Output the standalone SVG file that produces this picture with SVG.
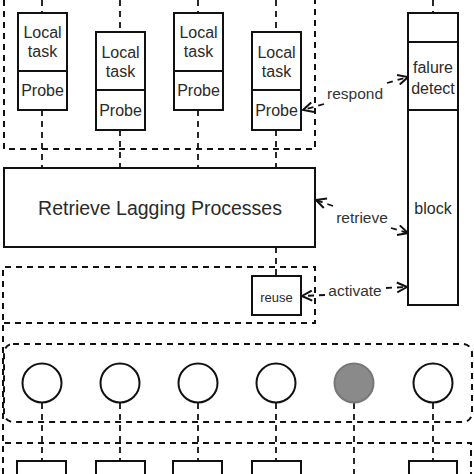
<svg xmlns="http://www.w3.org/2000/svg" width="474" height="474" viewBox="0 0 474 474">
<style>
.box{fill:#fff;stroke:#111;stroke-width:2}
.dash{fill:none;stroke:#111;stroke-width:2;stroke-dasharray:6,5}
.conn{fill:none;stroke:#111;stroke-width:1.8;stroke-dasharray:6,5}
.t{font-family:"Liberation Sans",Arial,sans-serif;font-size:16px;fill:#2a2a2a;text-anchor:middle}
.lbl{font-family:"Liberation Sans",Arial,sans-serif;font-size:15.5px;fill:#333;text-anchor:middle}
.circ{fill:#fff;stroke:#111;stroke-width:2}
</style>
<defs>
<marker id="ah" viewBox="0 0 12 12" refX="11" refY="6" markerWidth="12" markerHeight="12" markerUnits="userSpaceOnUse" orient="auto-start-reverse">
<path d="M1,1 L11,6 L1,11" fill="none" stroke="#111" stroke-width="2"/>
</marker>
</defs>
<rect width="474" height="474" fill="#fff"/>
<g id="groups">
<path class="dash" d="M4,0 V149 H315 V0"/>
<path class="dash" d="M3,474 V267 H315 V323 H3"/>
<rect class="dash" x="4" y="344" width="468" height="78" rx="9"/>
<path class="dash" d="M3,474 V443 H471 V474"/>
</g>
<g id="connectors">
<path class="conn" d="M42,0 V13 M42,110 V168"/>
<path class="conn" d="M120,0 V32 M120,130 V168"/>
<path class="conn" d="M198,0 V13 M198,110 V168"/>
<path class="conn" d="M276,0 V32 M276,130 V168"/>
<path class="conn" d="M433,0 V13"/>
<path class="conn" d="M276,247 V276"/>
<path class="conn" d="M42,403 V461 M120,403 V461 M198,403 V461 M276,403 V461 M354,403 V474 M433,403 V461"/>
<path class="conn" d="M324,104 L303,110" marker-end="url(#ah)"/>
<path class="conn" d="M387,83 L408,77" marker-end="url(#ah)"/>
<path class="conn" d="M333,206 L316,200" marker-end="url(#ah)"/>
<path class="conn" d="M391,228 L408,233" marker-end="url(#ah)"/>
<path class="conn" d="M325,295 L302,296" marker-end="url(#ah)"/>
<path class="conn" d="M386,288 L407,287" marker-end="url(#ah)"/>
<text class="lbl" x="355" y="99">respond</text>
<text class="lbl" x="362" y="223">retrieve</text>
<text class="lbl" x="355" y="296">activate</text>
</g>
<g id="node-task1">
<rect class="box" x="18" y="13" width="49" height="97"/>
<line class="box" x1="18" y1="71" x2="67" y2="71"/>
<text class="t" x="42.5" y="38">Local</text><text class="t" x="42.5" y="57">task</text>
<text class="t" x="42.5" y="96">Probe</text>
</g>
<g id="node-task2">
<rect class="box" x="96" y="32" width="49" height="98"/>
<line class="box" x1="96" y1="90" x2="145" y2="90"/>
<text class="t" x="120.5" y="58">Local</text><text class="t" x="120.5" y="77">task</text>
<text class="t" x="120.5" y="116">Probe</text>
</g>
<g id="node-task3">
<rect class="box" x="174" y="13" width="49" height="97"/>
<line class="box" x1="174" y1="71" x2="223" y2="71"/>
<text class="t" x="198.5" y="38">Local</text><text class="t" x="198.5" y="57">task</text>
<text class="t" x="198.5" y="96">Probe</text>
</g>
<g id="node-task4">
<rect class="box" x="252" y="32" width="49" height="98"/>
<line class="box" x1="252" y1="90" x2="301" y2="90"/>
<text class="t" x="276.5" y="58">Local</text><text class="t" x="276.5" y="77">task</text>
<text class="t" x="276.5" y="116">Probe</text>
</g>
<g id="node-monitor">
<rect class="box" x="408" y="13" width="50" height="292"/>
<line class="box" x1="408" y1="42" x2="458" y2="42"/>
<line class="box" x1="408" y1="110" x2="458" y2="110"/>
<text class="t" x="433" y="73">falure</text><text class="t" x="433" y="94">detect</text>
<text class="t" x="433" y="214">block</text>
</g>
<g id="node-retrieve">
<rect class="box" x="4" y="168" width="311" height="79"/>
<text class="t" x="160" y="215" style="font-size:19.5px">Retrieve Lagging Processes</text>
</g>
<g id="node-reuse">
<rect class="box" x="252" y="276" width="49" height="39"/>
<text class="t" x="276.5" y="302" style="font-size:13px">reuse</text>
</g>
<g id="node-circles">
<circle class="circ" cx="42" cy="383" r="19.5"/>
<circle class="circ" cx="120" cy="383" r="19.5"/>
<circle class="circ" cx="198" cy="383" r="19.5"/>
<circle class="circ" cx="276" cy="383" r="19.5"/>
<circle cx="354" cy="383" r="19.5" fill="#8a8a8a" stroke="#777" stroke-width="2"/>
<circle class="circ" cx="433" cy="383" r="19.5"/>
</g>
<g id="node-bottom">
<rect class="box" x="17" y="461" width="49" height="20"/>
<rect class="box" x="96" y="461" width="49" height="20"/>
<rect class="box" x="173" y="461" width="49" height="20"/>
<rect class="box" x="252" y="461" width="49" height="20"/>
<rect class="box" x="409" y="461" width="48" height="20"/>
</g>
</svg>
